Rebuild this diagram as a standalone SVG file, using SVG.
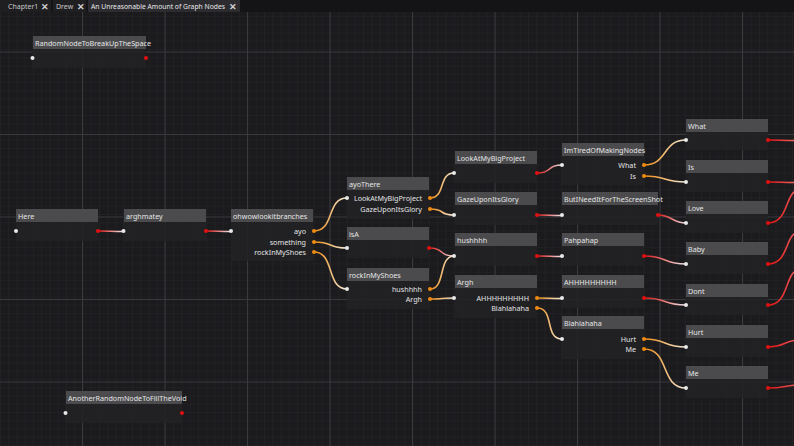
<svg xmlns="http://www.w3.org/2000/svg" width="794" height="446" viewBox="0 0 794 446">
<defs>
<pattern id="minor" width="8.25" height="8.25" patternUnits="userSpaceOnUse" x="0" y="-0.5"><path d="M0 0H8.25M0 0V8.25" stroke="#26262a" stroke-width="1" fill="none"/></pattern>
<linearGradient id="rg"><stop offset="0" stop-color="#e01010"/><stop offset="1" stop-color="#f0e8e8"/></linearGradient>
<linearGradient id="og"><stop offset="0" stop-color="#ee8a10"/><stop offset="1" stop-color="#f5ecdc"/></linearGradient>
<linearGradient id="rr"><stop offset="0" stop-color="#e01010"/><stop offset="1" stop-color="#f06060"/></linearGradient>
<style>
text{font-family:"Noto Sans","Open Sans",sans-serif;font-size:7.2px;fill:#e4e4e4}
.tab{font-size:7px;fill:#c8c8c8}
.x{font-size:9px;font-weight:bold;fill:#d0d0d0}
.t{fill:#4b4b4d}
.b{fill:#222224;fill-opacity:0.85}
.in{fill:#e8e8e8}
.out{fill:#e01010}
.op{fill:#ee8a10}
.r{text-anchor:end}
#connectors path{fill:none;stroke-width:1.6}
.cr{stroke:url(#rg)}
.co{stroke:url(#og)}
.cx{stroke:url(#rr)}
</style>
</defs>
<rect width="794" height="446" fill="#1b1b1e"/>
<rect y="12" width="794" height="434" fill="url(#minor)"/>
<g stroke="#3a3a3e" stroke-width="1">
<path d="M82.5 12V446M165 12V446M247.5 12V446M330 12V446M412.5 12V446M495 12V446M577.5 12V446M660 12V446M742.5 12V446"/>
<path d="M0 52H794M0 134.5H794M0 217H794M0 299.5H794M0 382H794"/>
</g>
<g id="tabs">
<rect width="794" height="12" fill="#141416"/>
<rect x="0" y="0" width="51" height="12" fill="#1f1f22"/>
<rect x="53" y="0" width="33" height="12" fill="#1f1f22"/>
<rect x="88" y="0" width="152" height="12" fill="#2c2c30"/>
<text class="tab" x="8" y="9">Chapter1</text><text class="x" x="40.5" y="9.5">✕</text>
<text class="tab" x="56" y="9">Drew</text><text class="x" x="76.5" y="9.5">✕</text>
<text class="tab" x="91" y="9" textLength="134" lengthAdjust="spacingAndGlyphs" style="fill:#e8e8e8">An Unreasonable Amount of Graph Nodes</text><text class="x" x="229" y="9.5">✕</text>
</g>
<g id="connectors">
<path class="cr" d="M98 231C110 231 111 231.5 123 231.5"/>
<path class="cr" d="M206 231C218 231 219 231.5 231 231.5"/>
<path class="co" d="M314 231C335 231 326 198 347 198"/>
<path class="co" d="M314 242C335 242 326 248 347 248"/>
<path class="co" d="M314 252C335 252 326 289 347 289"/>
<path class="co" d="M430 198C446 198 438 173 454 173"/>
<path class="co" d="M430 209C446 209 438 215 454 215"/>
<path class="cr" d="M429 248C445 248 438 256 454 256"/>
<path class="co" d="M430 289C446 289 438 256 454 256"/>
<path class="co" d="M430 299C446 299 438 298 454 298"/>
<path class="cr" d="M537 173C553 173 546 165 562 165"/>
<path class="cr" d="M537 215C553 215 546 215.5 562 215.5"/>
<path class="cr" d="M537 256C553 256 546 256.5 562 256.5"/>
<path class="co" d="M537 298C553 298 546 298.5 562 298.5"/>
<path class="co" d="M537 308C555 308 544 339 562 339"/>
<path class="co" d="M644 165C668 165 662 140 686 140"/>
<path class="co" d="M644 176C668 176 662 182 686 182"/>
<path class="cr" d="M658 215C672 215 672 223 686 223"/>
<path class="cr" d="M644 256C668 256 662 264 686 264"/>
<path class="cr" d="M644 298C668 298 662 305 686 305"/>
<path class="co" d="M644 339C668 339 662 347 686 347"/>
<path class="co" d="M644 349C670 349 660 388 686 388"/>
<path class="cx" d="M768 140C781 140 781 140.5 794 140.5"/>
<path class="cx" d="M768 182C781 182 781 182.5 794 182.5"/>
<path class="cx" d="M768 223C790 223 784 190 800 190"/>
<path class="cx" d="M768 264C790 264 784 232 800 232"/>
<path class="cx" d="M768 305C790 305 784 270 800 270"/>
<path class="cx" d="M768 347C785 347 785 340 800 340"/>
<path class="cx" d="M768 388C785 388 785 385 800 385"/>
</g>
<g id="n-random"><rect class="b" x="32" y="36" width="114" height="32"/><rect class="t" x="33" y="36" width="113" height="13"/><text x="35" y="45.5">RandomNodeToBreakUpTheSpace</text><circle class="in" cx="32.5" cy="58" r="2"/><circle class="out" cx="146" cy="58" r="2"/></g>
<g id="n-another"><rect class="b" x="65" y="391" width="117" height="32"/><rect class="t" x="66" y="391" width="116" height="13"/><text x="68" y="400.5">AnotherRandomNodeToFillTheVoid</text><circle class="in" cx="65.5" cy="413" r="2"/><circle class="out" cx="182" cy="413" r="2"/></g>
<g id="n-here"><rect class="b" x="16" y="209" width="82" height="32"/><rect class="t" x="16" y="209" width="82" height="13"/><text x="18" y="218.5">Here</text><circle class="in" cx="16" cy="231" r="2"/><circle class="out" cx="98" cy="231" r="2"/></g>
<g id="n-arghmatey"><rect class="b" x="123" y="209" width="83" height="32"/><rect class="t" x="124" y="209" width="82" height="13"/><text x="126" y="218.5">arghmatey</text><circle class="in" cx="123.5" cy="231" r="2"/><circle class="out" cx="206" cy="231" r="2"/></g>
<g id="n-ohwow"><rect class="b" x="231" y="209" width="83" height="52"/><rect class="t" x="231" y="209" width="82" height="13"/><text x="233" y="218.5">ohwowlookitbranches</text><circle class="in" cx="231" cy="231" r="2"/><text class="r" x="306" y="234">ayo</text><text class="r" x="306" y="245">something</text><text class="r" x="306" y="255">rockInMyShoes</text><circle class="op" cx="314" cy="231" r="2"/><circle class="op" cx="314" cy="242" r="2"/><circle class="op" cx="314" cy="252" r="2"/></g>
<g id="n-ayoThere"><rect class="b" x="347" y="177" width="83" height="42"/><rect class="t" x="347" y="177" width="82" height="13"/><text x="349" y="186.5">ayoThere</text><circle class="in" cx="347" cy="198" r="2"/><text class="r" x="422" y="201">LookAtMyBigProject</text><text class="r" x="422" y="212">GazeUponItsGlory</text><circle class="op" cx="430" cy="198" r="2"/><circle class="op" cx="430" cy="209" r="2"/></g>
<g id="n-isA"><rect class="b" x="347" y="227" width="83" height="31"/><rect class="t" x="347" y="227" width="82" height="13"/><text x="349" y="236.5">isA</text><circle class="in" cx="347" cy="248" r="2"/><circle class="out" cx="429" cy="248" r="2"/></g>
<g id="n-rock"><rect class="b" x="347" y="268" width="83" height="41"/><rect class="t" x="347" y="268" width="82" height="13"/><text x="349" y="277.5">rockInMyShoes</text><circle class="in" cx="347" cy="289" r="2"/><text class="r" x="422" y="292">hushhhh</text><text class="r" x="422" y="302">Argh</text><circle class="op" cx="430" cy="289" r="2"/><circle class="op" cx="430" cy="299" r="2"/></g>
<g id="n-look"><rect class="b" x="454" y="151" width="83" height="32"/><rect class="t" x="455" y="151" width="82" height="13"/><text x="457" y="160.5">LookAtMyBigProject</text><circle class="in" cx="454" cy="173" r="2"/><circle class="out" cx="537" cy="173" r="2"/></g>
<g id="n-gaze"><rect class="b" x="454" y="192" width="83" height="33"/><rect class="t" x="455" y="192" width="82" height="13"/><text x="457" y="201.5">GazeUponItsGlory</text><circle class="in" cx="454" cy="215" r="2"/><circle class="out" cx="537" cy="215" r="2"/></g>
<g id="n-hush"><rect class="b" x="454" y="233" width="83" height="33"/><rect class="t" x="455" y="233" width="82" height="13"/><text x="457" y="242.5">hushhhh</text><circle class="in" cx="454" cy="256" r="2"/><circle class="out" cx="537" cy="256" r="2"/></g>
<g id="n-argh"><rect class="b" x="454" y="275" width="83" height="43"/><rect class="t" x="455" y="275" width="82" height="13"/><text x="457" y="284.5">Argh</text><circle class="in" cx="454" cy="298" r="2"/><text class="r" x="529" y="301">AHHHHHHHHH</text><text class="r" x="529" y="311">Blahlahaha</text><circle class="op" cx="537" cy="298" r="2"/><circle class="op" cx="537" cy="308" r="2"/></g>
<g id="n-tired"><rect class="b" x="562" y="143" width="83" height="42"/><rect class="t" x="562" y="143" width="82" height="13"/><text x="564" y="152.5">ImTiredOfMakingNodes</text><circle class="in" cx="562" cy="165" r="2"/><text class="r" x="636" y="168">What</text><text class="r" x="636" y="179">Is</text><circle class="op" cx="644" cy="165" r="2"/><circle class="op" cx="644" cy="176" r="2"/></g>
<g id="n-butineed"><rect class="b" x="562" y="192" width="96" height="33"/><rect class="t" x="562" y="192" width="96" height="13"/><text x="564" y="201.5">ButINeedItForTheScreenShot</text><circle class="in" cx="562" cy="215" r="2"/><circle class="out" cx="658" cy="215" r="2"/></g>
<g id="n-pah"><rect class="b" x="562" y="233" width="83" height="33"/><rect class="t" x="562" y="233" width="82" height="13"/><text x="564" y="242.5">Pahpahap</text><circle class="in" cx="562" cy="256" r="2"/><circle class="out" cx="644" cy="256" r="2"/></g>
<g id="n-ahh"><rect class="b" x="562" y="275" width="83" height="33"/><rect class="t" x="562" y="275" width="82" height="13"/><text x="564" y="284.5">AHHHHHHHHH</text><circle class="in" cx="562" cy="298" r="2"/><circle class="out" cx="644" cy="298" r="2"/></g>
<g id="n-blah"><rect class="b" x="562" y="316" width="83" height="43"/><rect class="t" x="562" y="316" width="82" height="13"/><text x="564" y="325.5">Blahlahaha</text><circle class="in" cx="562" cy="339" r="2"/><text class="r" x="636" y="342">Hurt</text><text class="r" x="636" y="352">Me</text><circle class="op" cx="644" cy="339" r="2"/><circle class="op" cx="644" cy="349" r="2"/></g>
<g id="n-what"><rect class="b" x="686" y="119" width="82" height="31"/><rect class="t" x="686" y="119" width="82" height="13"/><text x="688" y="128.5">What</text><circle class="in" cx="686" cy="140" r="2"/><circle class="out" cx="768" cy="140" r="2"/></g>
<g id="n-is"><rect class="b" x="686" y="160" width="82" height="32"/><rect class="t" x="686" y="160" width="82" height="13"/><text x="688" y="169.5">Is</text><circle class="in" cx="686" cy="182" r="2"/><circle class="out" cx="768" cy="182" r="2"/></g>
<g id="n-love"><rect class="b" x="686" y="201" width="82" height="32"/><rect class="t" x="686" y="201" width="82" height="13"/><text x="688" y="210.5">Love</text><circle class="in" cx="686" cy="223" r="2"/><circle class="out" cx="768" cy="223" r="2"/></g>
<g id="n-baby"><rect class="b" x="686" y="242" width="82" height="32"/><rect class="t" x="686" y="242" width="82" height="13"/><text x="688" y="251.5">Baby</text><circle class="in" cx="686" cy="264" r="2"/><circle class="out" cx="768" cy="264" r="2"/></g>
<g id="n-dont"><rect class="b" x="686" y="284" width="82" height="31"/><rect class="t" x="686" y="284" width="82" height="13"/><text x="688" y="293.5">Dont</text><circle class="in" cx="686" cy="305" r="2"/><circle class="out" cx="768" cy="305" r="2"/></g>
<g id="n-hurt"><rect class="b" x="686" y="325" width="82" height="32"/><rect class="t" x="686" y="325" width="82" height="13"/><text x="688" y="334.5">Hurt</text><circle class="in" cx="686" cy="347" r="2"/><circle class="out" cx="768" cy="347" r="2"/></g>
<g id="n-me"><rect class="b" x="686" y="366" width="82" height="32"/><rect class="t" x="686" y="366" width="82" height="13"/><text x="688" y="375.5">Me</text><circle class="in" cx="686" cy="388" r="2"/><circle class="out" cx="768" cy="388" r="2"/></g>
</svg>
